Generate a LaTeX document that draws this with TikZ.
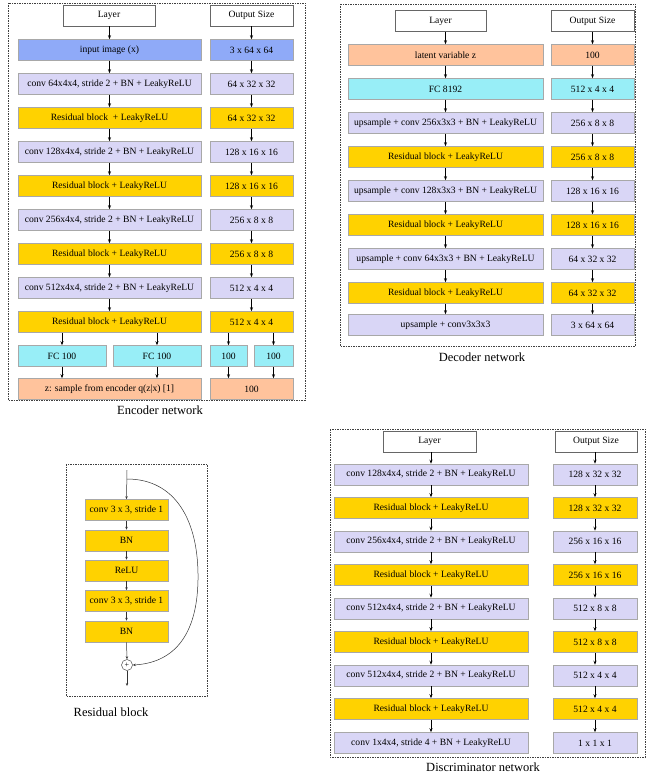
\documentclass[tikz,border=0pt]{standalone}
\usepackage{fontspec}
\setmainfont{Liberation Serif}
\usetikzlibrary{arrows.meta}
\definecolor{cblue}{HTML}{8FAAF8}
\definecolor{clav}{HTML}{D9D6F6}
\definecolor{cgold}{HTML}{FFD200}
\definecolor{ccyan}{HTML}{98EEF7}
\definecolor{cpeach}{HTML}{FFC39C}
\definecolor{cedge}{HTML}{A8A8A8}
\newcommand\bx[6]{\node[#5, minimum width={(#3-#2)*1pt}] (#1) at ({(#2+#3)/2},#4) {#6};}
\begin{document}
\begin{tikzpicture}[x=1pt,y=-1pt,
  base/.style={draw=cedge, line width=0.5pt, inner sep=0pt, minimum height=21pt, font=\fontsize{9.6}{10}\selectfont},
  hdr/.style={base, draw=black!60, fill=white},
  inp/.style={base, fill=cblue},
  lav/.style={base, fill=clav},
  gold/.style={base, fill=cgold},
  cyan/.style={base, fill=ccyan},
  peach/.style={base, fill=cpeach},
  rb/.style={base, fill=cgold, minimum height=21pt},
  arr/.style={-{Stealth[length=4pt,width=3pt]}, line width=0.9pt},
  tarr/.style={-{Stealth[length=3pt,width=2.4pt]}, line width=0.5pt, black!80},
  frame/.style={dash pattern=on 1.5pt off 1pt, draw=black!75, line width=0.6pt},
  captext/.style={font=\fontsize{12.5}{14}\selectfont}]
\useasboundingbox (0,0) rectangle (654,781);
% ---------- Encoder
\draw[frame] (8,3) rectangle (305,400);
\bx{e0}{63}{155}{15.5}{hdr}{Layer}
\bx{o0}{210}{293}{15.5}{hdr}{Output Size}
\bx{e1}{18}{201}{50}{inp}{input image (x)}
\bx{o1}{210}{293}{50}{inp}{3 x 64 x 64}
\bx{e2}{18}{201}{84}{lav}{conv 64x4x4, stride 2 + BN + LeakyReLU}
\bx{o2}{210}{293}{84}{lav}{64 x 32 x 32}
\bx{e3}{18}{201}{118}{gold}{Residual block \ + LeakyReLU}
\bx{o3}{210}{293}{118}{gold}{64 x 32 x 32}
\bx{e4}{18}{201}{152}{lav}{conv 128x4x4, stride 2 + BN + LeakyReLU}
\bx{o4}{210}{293}{152}{lav}{128 x 16 x 16}
\bx{e5}{18}{201}{186}{gold}{Residual block + LeakyReLU}
\bx{o5}{210}{293}{186}{gold}{128 x 16 x 16}
\bx{e6}{18}{201}{220}{lav}{conv 256x4x4, stride 2 + BN + LeakyReLU}
\bx{o6}{210}{293}{220}{lav}{256 x 8 x 8}
\bx{e7}{18}{201}{254}{gold}{Residual block + LeakyReLU}
\bx{o7}{210}{293}{254}{gold}{256 x 8 x 8}
\bx{e8}{18}{201}{288}{lav}{conv 512x4x4, stride 2 + BN + LeakyReLU}
\bx{o8}{210}{293}{288}{lav}{512 x 4 x 4}
\bx{e9}{18}{201}{322}{gold}{Residual block + LeakyReLU}
\bx{o9}{210}{293}{322}{gold}{512 x 4 x 4}
\bx{ea}{18}{106}{356}{cyan}{FC 100}
\bx{eb}{113}{201}{356}{cyan}{FC 100}
\bx{oa}{210}{247}{356}{cyan}{100}
\bx{ob}{254}{293}{356}{cyan}{100}
\bx{ez}{18}{201}{389}{peach}{z: sample from encoder q(z|x) [1]}
\bx{oz}{210}{293}{389}{peach}{100}
\foreach \a/\b in {0/1,1/2,2/3,3/4,4/5,5/6,6/7,7/8,8/9}{
  \draw[arr] ({e\b}.north |- {e\a}.south) -- ({e\b}.north);
  \draw[arr] ({o\b}.north |- {o\a}.south) -- ({o\b}.north);}
\foreach \n/\t/\m in {ea/e9/ez,eb/e9/ez,oa/o9/oz,ob/o9/oz}{
  \draw[arr] (\n.north |- \t.south) -- (\n.north);
  \draw[arr] (\n.south) -- (\n.south |- \m.north);}
\node[captext] (ecap) at (160,410) {Encoder network};
% ---------- Decoder
\draw[frame] (340,4) rectangle (635,346);
\bx{d0}{395}{486}{21}{hdr}{Layer}
\bx{p0}{551}{634}{21}{hdr}{Output Size}
\bx{d1}{348}{543}{55}{peach}{latent variable z}
\bx{p1}{551}{634}{55}{peach}{100}
\bx{d2}{348}{543}{89}{cyan}{FC 8192}
\bx{p2}{551}{634}{89}{cyan}{512 x 4 x 4}
\bx{d3}{348}{543}{123}{lav}{upsample + conv 256x3x3 + BN + LeakyReLU}
\bx{p3}{551}{634}{123}{lav}{256 x 8 x 8}
\bx{d4}{348}{543}{157}{gold}{Residual block + LeakyReLU}
\bx{p4}{551}{634}{157}{gold}{256 x 8 x 8}
\bx{d5}{348}{543}{191}{lav}{upsample + conv 128x3x3 + BN + LeakyReLU}
\bx{p5}{551}{634}{191}{lav}{128 x 16 x 16}
\bx{d6}{348}{543}{225}{gold}{Residual block + LeakyReLU}
\bx{p6}{551}{634}{225}{gold}{128 x 16 x 16}
\bx{d7}{348}{543}{259}{lav}{upsample + conv 64x3x3 + BN + LeakyReLU}
\bx{p7}{551}{634}{259}{lav}{64 x 32 x 32}
\bx{d8}{348}{543}{293}{gold}{Residual block + LeakyReLU}
\bx{p8}{551}{634}{293}{gold}{64 x 32 x 32}
\bx{d9}{348}{543}{325}{lav}{upsample + conv3x3x3}
\bx{p9}{551}{634}{325}{lav}{3 x 64 x 64}
\foreach \a/\b in {0/1,1/2,2/3,3/4,4/5,5/6,6/7,7/8,8/9}{
  \draw[arr] ({d\b}.north |- {d\a}.south) -- ({d\b}.north);
  \draw[arr] ({p\b}.north |- {p\a}.south) -- ({p\b}.north);}
\node[captext] (dcap) at (482,357) {Decoder network};
% ---------- Residual block
\draw[frame] (66,464) rectangle (207,696);
\coordinate (rin) at (127,470);
\bx{r1}{85}{168}{510}{rb}{conv 3 x 3, stride 1}
\bx{r2}{85}{168}{540.5}{rb}{BN}
\bx{r3}{85}{168}{570.5}{rb}{ReLU}
\bx{r4}{85}{168}{601}{rb}{conv 3 x 3, stride 1}
\bx{r5}{85}{168}{631.5}{rb}{BN}
\node[circle, draw=black!70, line width=0.5pt, minimum size=11pt, inner sep=0pt, font=\fontsize{8}{8}\selectfont] (rp) at (127,665) {+};
\coordinate (rout) at (127,686);
\draw[tarr] (rin) -- (r1.north);
\foreach \a/\b in {r1/r2,r2/r3,r3/r4,r4/r5,r5/rp}{\draw[tarr] (\a.south) -- (\b.north);}
\draw[tarr] (rp.south) -- (rout);
\coordinate (rs) at (127,479);
\draw[tarr] (rs) .. controls (175,479) and (199,520) .. (198,580) .. controls (197,640) and (170,663) .. (rp.east);
\node[captext] (rcap) at (111,712) {Residual block};
% ---------- Discriminator
\draw[frame] (330,429) rectangle (645,757);
\bx{s0}{383}{476}{441.5}{hdr}{Layer}
\bx{q0}{555}{637}{441.5}{hdr}{Output Size}
\bx{s1}{334}{528}{474.5}{lav}{conv 128x4x4, stride 2 + BN + LeakyReLU}
\bx{q1}{553}{637}{474.5}{lav}{128 x 32 x 32}
\bx{s2}{334}{528}{508}{gold}{Residual block + LeakyReLU}
\bx{q2}{553}{637}{508}{gold}{128 x 32 x 32}
\bx{s3}{334}{528}{541.5}{lav}{conv 256x4x4, stride 2 + BN + LeakyReLU}
\bx{q3}{553}{637}{541.5}{lav}{256 x 16 x 16}
\bx{s4}{334}{528}{575}{gold}{Residual block + LeakyReLU}
\bx{q4}{553}{637}{575}{gold}{256 x 16 x 16}
\bx{s5}{334}{528}{608.5}{lav}{conv 512x4x4, stride 2 + BN + LeakyReLU}
\bx{q5}{553}{637}{608.5}{lav}{512 x 8 x 8}
\bx{s6}{334}{528}{642}{gold}{Residual block + LeakyReLU}
\bx{q6}{553}{637}{642}{gold}{512 x 8 x 8}
\bx{s7}{334}{528}{675.5}{lav}{conv 512x4x4, stride 2 + BN + LeakyReLU}
\bx{q7}{553}{637}{675.5}{lav}{512 x 4 x 4}
\bx{s8}{334}{528}{709}{gold}{Residual block + LeakyReLU}
\bx{q8}{553}{637}{709}{gold}{512 x 4 x 4}
\bx{s9}{334}{528}{743}{lav}{conv 1x4x4, stride 4 + BN + LeakyReLU}
\bx{q9}{553}{637}{743}{lav}{1 x 1 x 1}
\foreach \a/\b in {0/1,1/2,2/3,3/4,4/5,5/6,6/7,7/8,8/9}{
  \draw[arr] ({s\b}.north |- {s\a}.south) -- ({s\b}.north);
  \draw[arr] ({q\b}.north |- {q\a}.south) -- ({q\b}.north);}
\node[captext] (scap) at (483,767) {Discriminator network};
\end{tikzpicture}
\end{document}
